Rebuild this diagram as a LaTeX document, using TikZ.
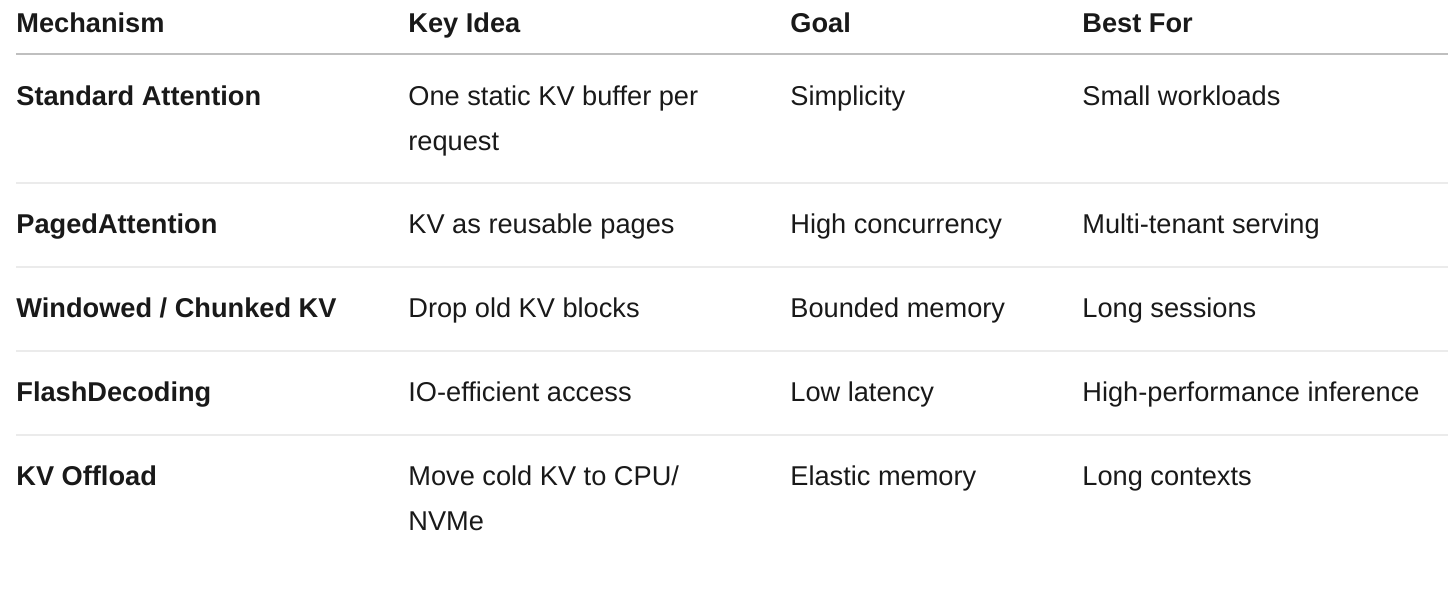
\documentclass[tikz,border=0pt]{standalone}
\usepackage{fontspec}
\setmainfont{Liberation Sans}
\begin{document}
\begin{tikzpicture}[x=0.5pt,y=-0.5pt,
  t/.style={anchor=base west,inner sep=0pt,font=\fontsize{13.6}{16}\selectfont,text=black!90},
  h/.style={t,font=\fontsize{13.6}{16}\selectfont\bfseries},
  sep/.style={draw=black!8,line width=0.6pt}]
\useasboundingbox (0,0) rectangle (1456,592);
\node[h] (h1) at (16,33) {Mechanism};
\node[h] (h2) at (408,33) {Key Idea};
\node[h] (h3) at (790,33) {Goal};
\node[h] (h4) at (1082,33) {Best For};
\draw[draw=black!25,line width=0.6pt] (16,54) -- (1448,54);
\node[h] (a1) at (16,106) {Standard Attention};
\node[t] (a2) at (408,106) {One static KV buffer per};
\node[t] (a2b) at (408,151) {request};
\node[t] (a3) at (790,106) {Simplicity};
\node[t] (a4) at (1082,106) {Small workloads};
\draw[sep] (16,183) -- (1448,183);
\node[h] (b1) at (16,234) {PagedAttention};
\node[t] (b2) at (408,234) {KV as reusable pages};
\node[t] (b3) at (790,234) {High concurrency};
\node[t] (b4) at (1082,234) {Multi-tenant serving};
\draw[sep] (16,267) -- (1448,267);
\node[h] (c1) at (16,318) {Windowed / Chunked KV};
\node[t] (c2) at (408,318) {Drop old KV blocks};
\node[t] (c3) at (790,318) {Bounded memory};
\node[t] (c4) at (1082,318) {Long sessions};
\draw[sep] (16,351) -- (1448,351);
\node[h] (d1) at (16,402) {FlashDecoding};
\node[t] (d2) at (408,402) {IO-efficient access};
\node[t] (d3) at (790,402) {Low latency};
\node[t] (d4) at (1082,402) {High-performance inference};
\draw[sep] (16,435) -- (1448,435);
\node[h] (e1) at (16,486) {KV Offload};
\node[t] (e2) at (408,486) {Move cold KV to CPU/};
\node[t] (e2b) at (408,531) {NVMe};
\node[t] (e3) at (790,486) {Elastic memory};
\node[t] (e4) at (1082,486) {Long contexts};
\end{tikzpicture}
\end{document}
